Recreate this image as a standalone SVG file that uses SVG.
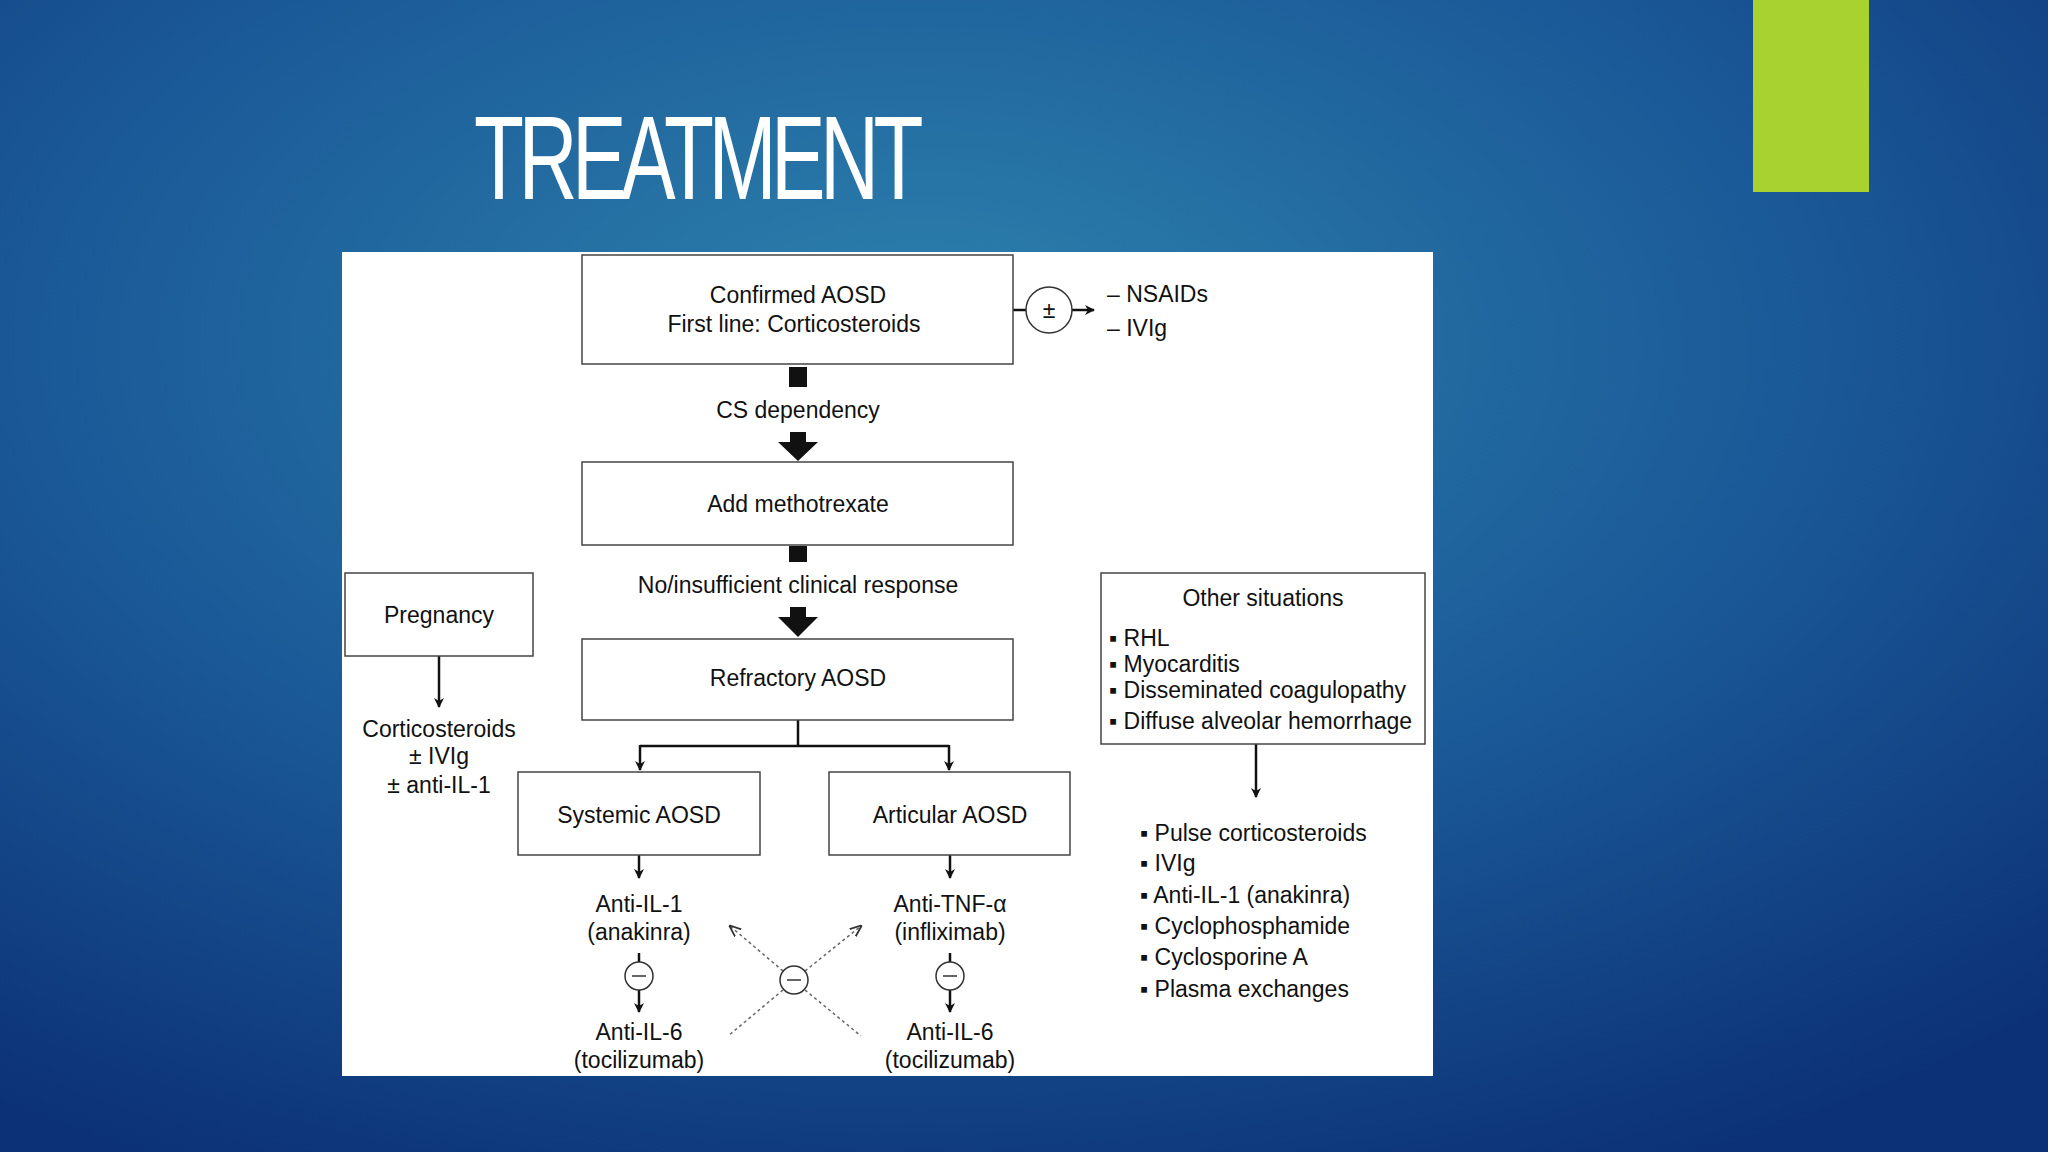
<svg xmlns="http://www.w3.org/2000/svg" width="2048" height="1152" viewBox="0 0 2048 1152">
<defs>
<radialGradient id="bg" cx="0.45" cy="0.3" r="0.8">
<stop offset="0" stop-color="#2d82ad"/>
<stop offset="0.55" stop-color="#1a5897"/>
<stop offset="1" stop-color="#0c3176"/>
</radialGradient>
<marker id="ah" viewBox="0 0 10 10" refX="9" refY="5" markerWidth="10" markerHeight="10" markerUnits="userSpaceOnUse" orient="auto"><path d="M0,0 L10,5 L0,10 L3,5 Z" fill="#111"/></marker>
<marker id="ahs" viewBox="0 0 10 10" refX="9" refY="5" markerWidth="12" markerHeight="12" markerUnits="userSpaceOnUse" orient="auto"><path d="M0,1 L10,5 L0,9" fill="none" stroke="#333" stroke-width="1.5"/></marker>
<style>
.t{font-family:"Liberation Sans",Arial,sans-serif;font-size:23px;fill:#111;text-anchor:middle}
.l{font-family:"Liberation Sans",Arial,sans-serif;font-size:23px;fill:#111}
.b{fill:#fff;stroke:#444;stroke-width:1.5}
.c{fill:none;stroke:#111;stroke-width:2.5}
.d{fill:none;stroke:#666;stroke-width:1.5;stroke-dasharray:3 3}
.ci{fill:#fff;stroke:#333;stroke-width:1.5}
</style>
</defs>
<rect width="2048" height="1152" fill="url(#bg)"/>
<rect x="1753" y="0" width="116" height="192" fill="#a8d22f"/>
<text x="474" y="199" font-family="Liberation Sans,Arial,sans-serif" font-size="118" fill="#fff" textLength="444" lengthAdjust="spacingAndGlyphs" letter-spacing="-8">TREATMENT</text>
<rect x="342" y="252" width="1091" height="824" fill="#fff"/>
<g id="connectors">
<line class="c" x1="1013" y1="310" x2="1026" y2="310"/>
<line class="c" x1="1072" y1="310" x2="1094" y2="310" marker-end="url(#ah)"/>
<rect x="789" y="367" width="18" height="20" fill="#111"/>
<path d="M790,432 H806 V442 H818 L798,461 L778,442 H790 Z" fill="#111"/>
<rect x="789" y="546" width="18" height="16" fill="#111"/>
<path d="M790,607 H806 V617 H818 L798,637 L778,617 H790 Z" fill="#111"/>
<path class="c" d="M798,720 V746 M640,746 H949"/>
<line class="c" x1="640" y1="745" x2="640" y2="770" marker-end="url(#ah)"/>
<line class="c" x1="949" y1="745" x2="949" y2="770" marker-end="url(#ah)"/>
<line class="c" x1="639" y1="855" x2="639" y2="878" marker-end="url(#ah)"/>
<line class="c" x1="950" y1="855" x2="950" y2="878" marker-end="url(#ah)"/>
<line class="c" x1="639" y1="953" x2="639" y2="962"/>
<line class="c" x1="639" y1="990" x2="639" y2="1012" marker-end="url(#ah)"/>
<line class="c" x1="950" y1="953" x2="950" y2="962"/>
<line class="c" x1="950" y1="990" x2="950" y2="1012" marker-end="url(#ah)"/>
<line class="d" x1="783" y1="971" x2="730" y2="926" marker-end="url(#ahs)"/>
<line class="d" x1="805" y1="971" x2="861" y2="926" marker-end="url(#ahs)"/>
<line class="d" x1="783" y1="990" x2="728" y2="1036"/>
<line class="d" x1="805" y1="990" x2="861" y2="1036"/>
<line class="c" x1="439" y1="656" x2="439" y2="707" marker-end="url(#ah)"/>
<line class="c" x1="1256" y1="744" x2="1256" y2="797" marker-end="url(#ah)"/>
</g>
<g id="n1"><rect class="b" x="582" y="255" width="431" height="109"/><text class="t" x="798" y="303">Confirmed AOSD</text><text class="t" x="794" y="332">First line: Corticosteroids</text></g>
<g id="pm"><circle class="ci" cx="1049" cy="310" r="23"/><text class="t" x="1049" y="318">±</text></g>
<g id="opt"><text class="l" x="1107" y="302">– NSAIDs</text><text class="l" x="1107" y="336">– IVIg</text></g>
<g id="csd"><text class="t" x="798" y="418">CS dependency</text></g>
<g id="n2"><rect class="b" x="582" y="462" width="431" height="83"/><text class="t" x="798" y="512">Add methotrexate</text></g>
<g id="nir"><text class="t" x="798" y="593">No/insufficient clinical response</text></g>
<g id="n3"><rect class="b" x="582" y="639" width="431" height="81"/><text class="t" x="798" y="686">Refractory AOSD</text></g>
<g id="sys"><rect class="b" x="518" y="772" width="242" height="83"/><text class="t" x="639" y="823">Systemic AOSD</text></g>
<g id="art"><rect class="b" x="829" y="772" width="241" height="83"/><text class="t" x="950" y="823">Articular AOSD</text></g>
<g id="il1"><text class="t" x="639" y="912">Anti-IL-1</text><text class="t" x="639" y="940">(anakinra)</text></g>
<g id="tnf"><text class="t" x="950" y="912">Anti-TNF-α</text><text class="t" x="950" y="940">(infliximab)</text></g>
<g id="m1"><circle class="ci" cx="639" cy="976" r="14"/><line x1="632" y1="976" x2="646" y2="976" stroke="#333" stroke-width="1.5"/></g>
<g id="m2"><circle class="ci" cx="950" cy="976" r="14"/><line x1="943" y1="976" x2="957" y2="976" stroke="#333" stroke-width="1.5"/></g>
<g id="mx"><circle class="ci" cx="794" cy="980" r="14"/><line x1="787" y1="980" x2="801" y2="980" stroke="#333" stroke-width="1.5"/></g>
<g id="il6a"><text class="t" x="639" y="1040">Anti-IL-6</text><text class="t" x="639" y="1068">(tocilizumab)</text></g>
<g id="il6b"><text class="t" x="950" y="1040">Anti-IL-6</text><text class="t" x="950" y="1068">(tocilizumab)</text></g>
<g id="preg"><rect class="b" x="345" y="573" width="188" height="83"/><text class="t" x="439" y="623">Pregnancy</text>
<text class="t" x="439" y="737">Corticosteroids</text><text class="t" x="439" y="764">± IVIg</text><text class="t" x="439" y="793">± anti-IL-1</text></g>
<g id="other"><rect class="b" x="1101" y="573" width="324" height="171"/><text class="t" x="1263" y="606">Other situations</text>
<text class="l" x="1109" y="646">▪ RHL</text><text class="l" x="1109" y="672">▪ Myocarditis</text><text class="l" x="1109" y="698">▪ Disseminated coagulopathy</text><text class="l" x="1109" y="729">▪ Diffuse alveolar hemorrhage</text></g>
<g id="list">
<text class="l" x="1140" y="841">▪ Pulse corticosteroids</text>
<text class="l" x="1140" y="871">▪ IVIg</text>
<text class="l" x="1140" y="903">▪ Anti-IL-1 (anakinra)</text>
<text class="l" x="1140" y="934">▪ Cyclophosphamide</text>
<text class="l" x="1140" y="965">▪ Cyclosporine A</text>
<text class="l" x="1140" y="997">▪ Plasma exchanges</text>
</g>
</svg>
